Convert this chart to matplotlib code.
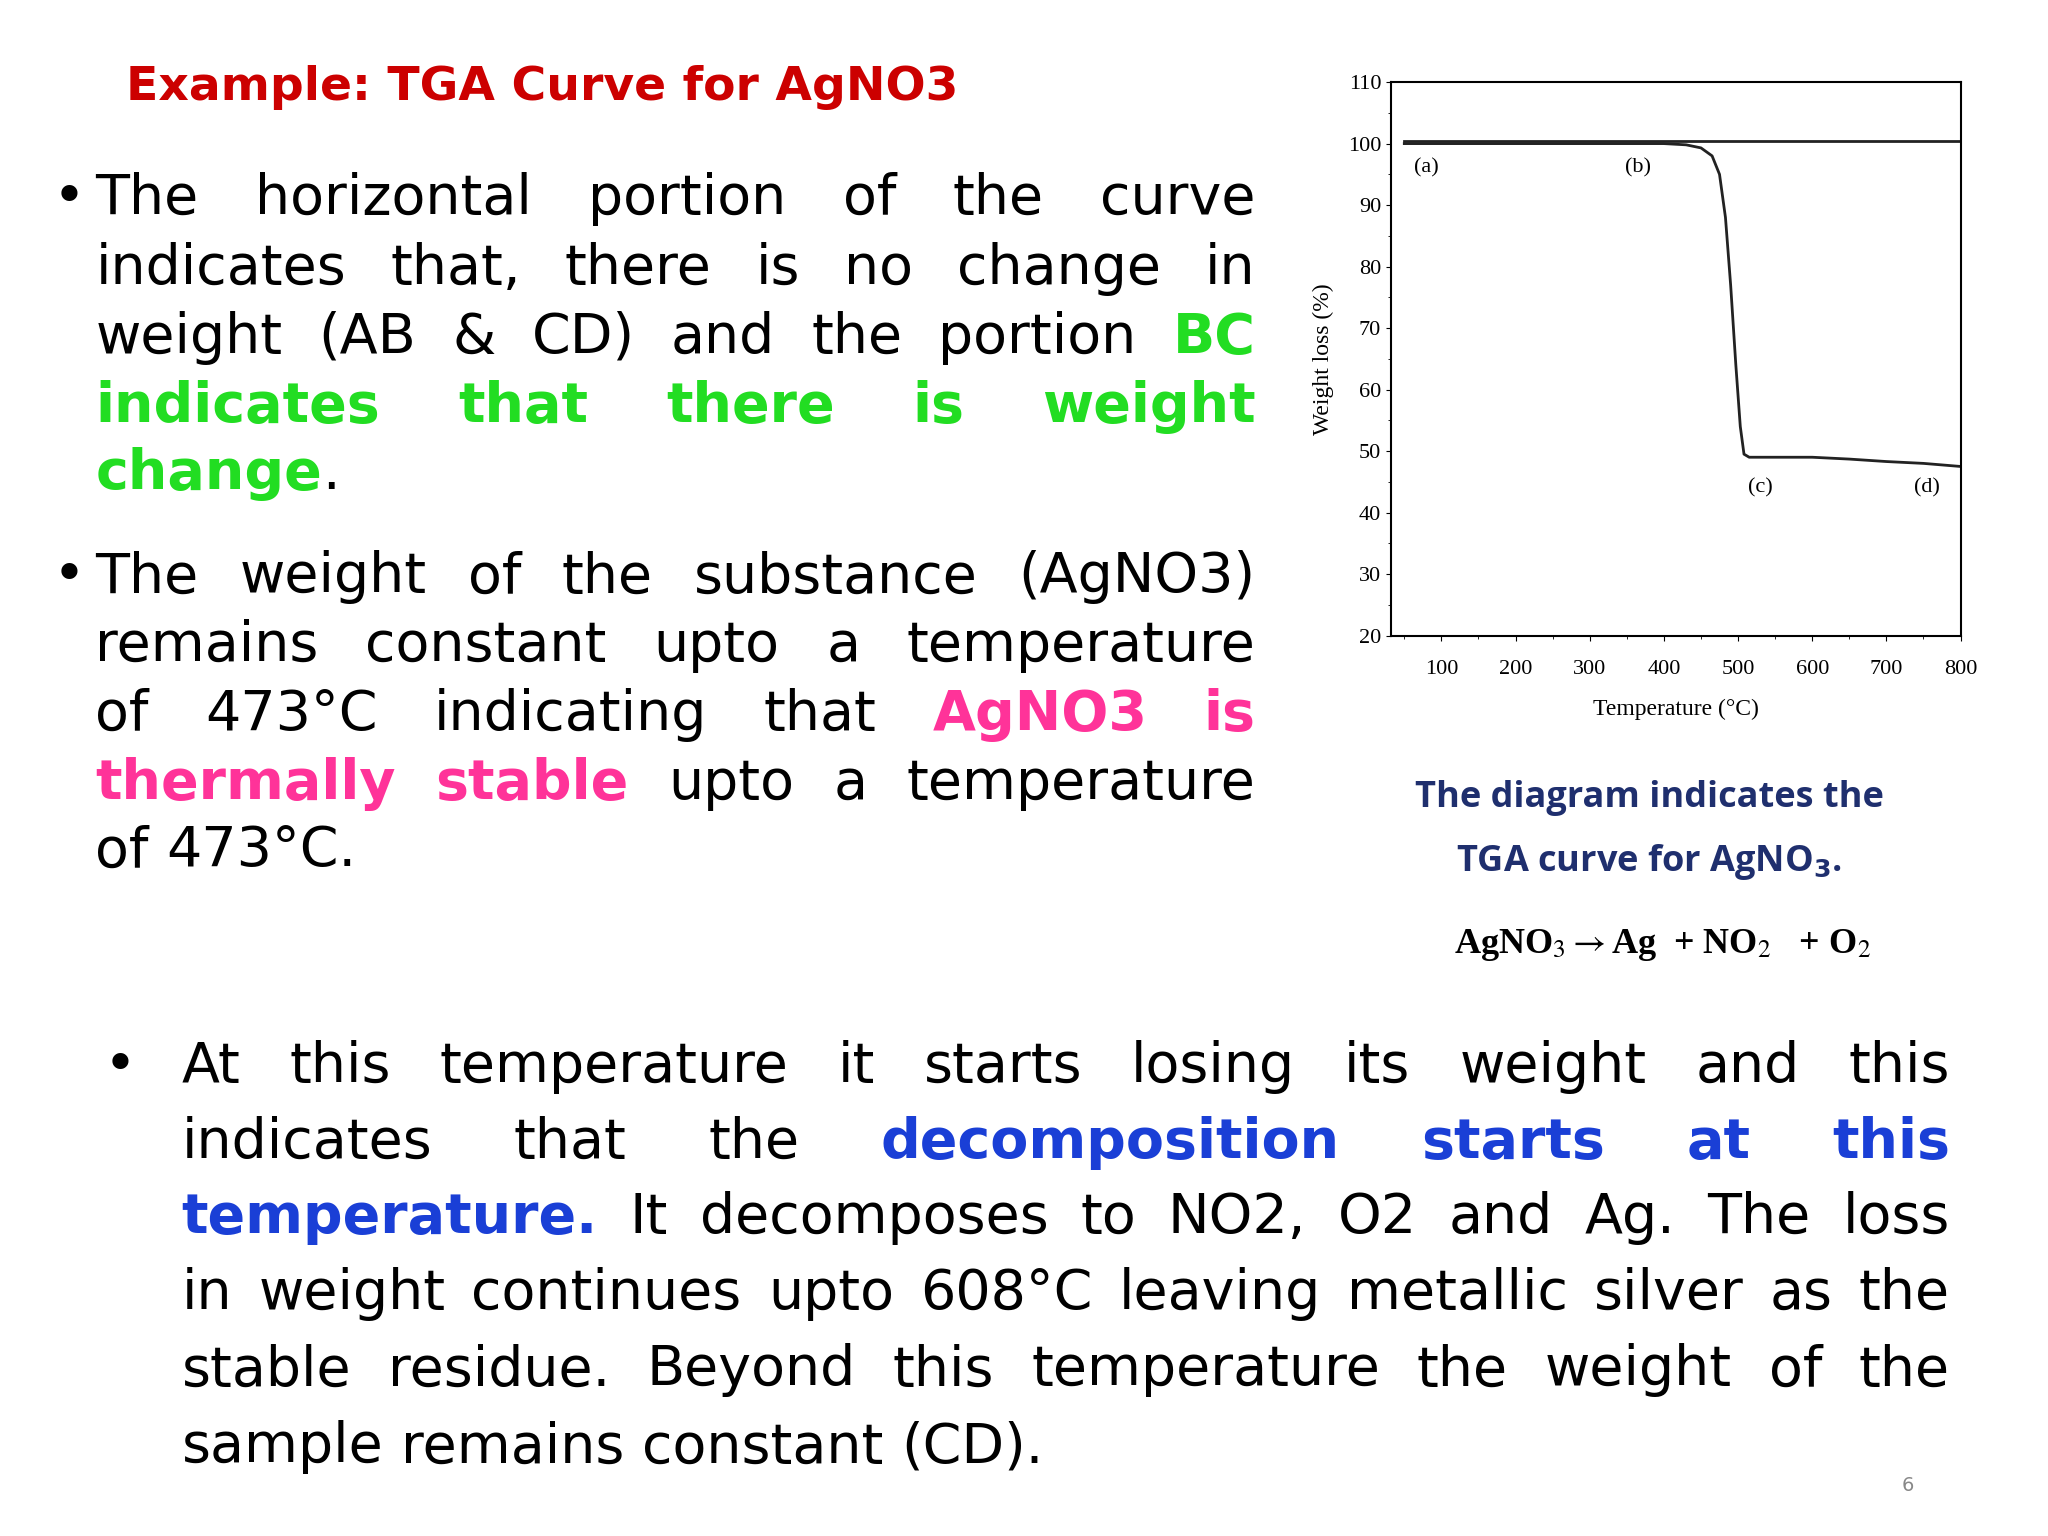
import matplotlib
matplotlib.use("Agg")
import matplotlib.pyplot as plt

W, H = 1546, 1160  # layout reference grid

temp_c = [50, 300, 400, 430, 450, 465, 475, 483, 490, 497, 503, 508, 515, 560, 600, 650, 700, 750, 800]
weight_pct = [100, 100, 100, 99.8, 99.3, 98, 95, 88, 77, 64, 54, 49.5, 49, 49, 49, 48.7, 48.3, 48, 47.5]
flat_temp = [50, 800]
flat_weight = [100.4, 100.4]
point_labels = ["(a)", "(b)", "(c)", "(d)"]
point_x = [80, 365, 530, 755]
point_y = [96, 96, 44, 44]
y_ticks = list(range(20, 111, 10))
x_ticks = list(range(100, 801, 100))

FS = 40
TXT = "DejaVu Sans"

fig = plt.figure(figsize=(20.48, 15.36), dpi=100)
fig.patch.set_facecolor("white")
renderer = fig.canvas.get_renderer()


def fx(x):
    return x / W


def fy(y):
    return 1 - y / H


def text_width(s, bold=False, size=FS):
    t = fig.text(0, 0, s, fontsize=size, family=TXT, fontweight="bold" if bold else "normal")
    w = t.get_window_extent(renderer).width / fig.bbox.width
    t.remove()
    return w


def justified(words, x0, x1, y, justify=True, size=FS):
    """words: list of (text, color, bold)."""
    arts = []
    for w, c, b in words:
        t = fig.text(0, fy(y), w, color=c, fontsize=size, family=TXT,
                     fontweight="bold" if b else "normal", va="center")
        arts.append(t)
    widths = [a.get_window_extent(renderer).width / fig.bbox.width for a in arts]
    total = fx(x1) - fx(x0)
    if justify and len(arts) > 1:
        gap = (total - sum(widths)) / (len(arts) - 1)
    else:
        gap = text_width("a a", size=size) - text_width("aa", size=size)
    x = fx(x0)
    for a, w in zip(arts, widths):
        a.set_x(x)
        x += w + gap
    return x - gap


K, G, P, B = "black", "#22dd22", "#ff3399", "#1a3fd6"


def seg(text, color=K, bold=False):
    return [(w, color, bold) for w in text.split()]


fig.text(fx(95), fy(66), "Example: TGA Curve for AgNO3", color="#cc0000",
         fontsize=34, fontweight="bold", family=TXT, va="center")

# paragraph 1
lx0, lx1 = 72, 948
fig.text(fx(40), fy(150), "•", fontsize=FS, family=TXT, va="center")
justified(seg("The horizontal portion of the curve"), lx0, lx1, 150)
justified(seg("indicates that, there is no change in"), lx0, lx1, 203)
justified(seg("weight (AB & CD) and the portion") + seg("BC", G, True), lx0, lx1, 255)
justified(seg("indicates that there is weight", G, True), lx0, lx1, 307)
end = justified([("change", G, True)], lx0, lx1, 358, justify=False)
fig.text(end, fy(358), ".", fontsize=FS, family=TXT, va="center")

# paragraph 2
fig.text(fx(40), fy(436), "•", fontsize=FS, family=TXT, va="center")
justified(seg("The weight of the substance (AgNO3)"), lx0, lx1, 436)
justified(seg("remains constant upto a temperature"), lx0, lx1, 488)
justified(seg("of 473°C indicating that") + seg("AgNO3 is", P, True), lx0, lx1, 540)
justified(seg("thermally stable", P, True) + seg("upto a temperature"), lx0, lx1, 592)
justified(seg("of 473°C."), lx0, lx1, 643, justify=False)

# paragraph 3
px0, px1 = 137, 1472
fig.text(fx(78), fy(806), "•", fontsize=FS, family=TXT, va="center")
justified(seg("At this temperature it starts losing its weight and this"), px0, px1, 806)
justified(seg("indicates that the") + seg("decomposition starts at this", B, True), px0, px1, 863)
justified([("temperature.", B, True)] + seg("It decomposes to NO2, O2 and Ag. The loss"), px0, px1, 920)
justified(seg("in weight continues upto 608°C leaving metallic silver as the"), px0, px1, 977)
justified(seg("stable residue. Beyond this temperature the weight of the"), px0, px1, 1035)
justified(seg("sample remains constant (CD)."), px0, px1, 1093, justify=False)

fig.text(fx(1440), fy(1122), "6", color="#888888", fontsize=14, ha="center", va="center")

# caption
fig.text(fx(1245), fy(603), "The diagram indicates the", color="#1f2f6e", fontsize=26,
         fontweight="bold", ha="center", va="center", family="Open Sans")
fig.text(fx(1245), fy(651), r"TGA curve for AgNO$_\mathbf{3}$.", color="#1f2f6e", fontsize=26,
         fontweight="bold", ha="center", va="center", family="Open Sans")
fig.text(fx(1255), fy(714), r"AgNO$_3$$\rightarrow$Ag  + NO$_2$   + O$_2$", fontsize=26,
         fontweight="bold", ha="center", va="center", family="Liberation Serif", math_fontfamily="stix")

# TGA chart
ax = fig.add_axes([fx(1050), fy(480), fx(1480) - fx(1050), fy(62) - fy(480)])
ax.plot(flat_temp, flat_weight, color="#222222", lw=2)
ax.plot(temp_c, weight_pct, color="#222222", lw=2)
for lab, x, y in zip(point_labels, point_x, point_y):
    ax.text(x, y, lab, fontsize=16, family="Liberation Serif", ha="center", va="center")
ax.set_xlim(32, 800)
ax.set_ylim(20, 110)
ax.set_xticks(x_ticks)
ax.set_yticks(y_ticks)
ax.set_xticks(range(50, 801, 50), minor=True)
ax.set_yticks(range(20, 111, 5), minor=True)
ax.tick_params(labelsize=16, direction="out", which="both")
for lab in ax.get_xticklabels() + ax.get_yticklabels():
    lab.set_family("Liberation Serif")
ax.tick_params(axis="x", pad=14)
ax.set_xlabel("Temperature (°C)", fontsize=17, family="Liberation Serif", labelpad=14)
ax.set_ylabel("Weight loss (%)", fontsize=17, family="Liberation Serif", labelpad=10)
for s in ax.spines.values():
    s.set_linewidth(1.5)

fig.savefig("out.png", dpi=100)
